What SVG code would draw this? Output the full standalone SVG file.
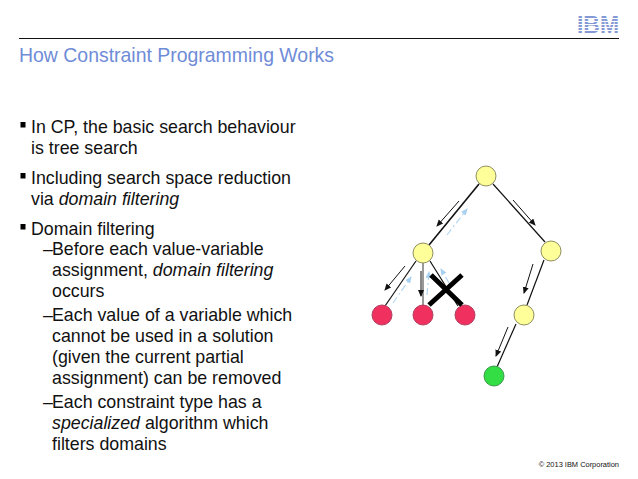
<svg xmlns="http://www.w3.org/2000/svg" width="638" height="479" viewBox="0 0 638 479">
<style>
text{font-family:"Liberation Sans",Arial,sans-serif;fill:#111}
.b{font-size:17.8px}
.i{font-style:italic}
.y{fill:#ffff99;stroke:#8f8f5f;stroke-width:1}
.r{fill:#f0305f;stroke:#b04060;stroke-width:1}
.g{fill:#33dd44;stroke:#3a9a4a;stroke-width:1}
.e{stroke:#111;stroke-width:1.2;fill:none}
.a{stroke:#111;stroke-width:1;fill:none;marker-end:url(#k)}
.u{stroke:#b4d6f2;stroke-width:1.2;stroke-dasharray:7 3 2 3;fill:none;marker-end:url(#l)}
</style>
<defs>
<marker id="k" markerWidth="8" markerHeight="8" refX="6" refY="3" orient="auto" markerUnits="userSpaceOnUse"><path d="M0 0L7 3L0 6z" fill="#111"/></marker>
<marker id="l" markerWidth="8" markerHeight="8" refX="6" refY="3" orient="auto" markerUnits="userSpaceOnUse"><path d="M0 0L7 3L0 6z" fill="#a8d0f0"/></marker>
</defs>
<rect width="638" height="479" fill="#fff"/>
<g id="logo" opacity="0.75">
<text x="577" y="32.5" font-size="23" font-weight="700" textLength="42" lengthAdjust="spacingAndGlyphs" style="fill:#5a76c8">IBM</text>
<path d="M574 18.5H622M574 21.5H622M574 24.5H622M574 27.5H622M574 30.5H622" stroke="#fff" stroke-width="1.2"/>
</g>
<path d="M19 38.5H619" stroke="#111" stroke-width="1"/>
<text id="title" x="19" y="62" font-size="19.45" style="fill:#6f8cd8">How Constraint Programming Works</text>
<g id="body">
<rect x="20.5" y="122" width="5" height="5.5"/><rect x="20.5" y="173" width="5" height="5.5"/><rect x="20.5" y="224" width="5" height="5.5"/>
<text class="b" x="31" y="133">In CP, the basic search behaviour</text>
<text class="b" x="31" y="154">is tree search</text>
<text class="b" x="31" y="184">Including search space reduction</text>
<text class="b" x="31" y="205">via <tspan class="i">domain filtering</tspan></text>
<text class="b" x="31" y="235">Domain filtering</text>
<text class="b" x="43" y="254.5">–</text>
<text class="b" x="52" y="254.5">Before each value-variable</text>
<text class="b" x="52" y="275.5">assignment, <tspan class="i">domain filtering</tspan></text>
<text class="b" x="52" y="296.5">occurs</text>
<text class="b" x="43" y="320.5">–</text>
<text class="b" x="52" y="320.5">Each value of a variable which</text>
<text class="b" x="52" y="341.5">cannot be used in a solution</text>
<text class="b" x="52" y="362.5">(given the current partial</text>
<text class="b" x="52" y="383.5">assignment) can be removed</text>
<text class="b" x="43" y="407.5">–</text>
<text class="b" x="52" y="407.5">Each constraint type has a</text>
<text class="b" x="52" y="428.5"><tspan class="i">specialized</tspan> algorithm which</text>
<text class="b" x="52" y="449.5">filters domains</text>
</g>
<g id="connectors">
<path class="e" d="M479 184L429 245" style="stroke-width:1.6"/>
<path class="e" d="M493 184L545 242"/>
<path class="e" d="M416 261L385 306"/>
<path d="M423 263V306" stroke="#777" stroke-width="1.5"/>
<path class="e" d="M430 261L458 306"/>
<path class="e" d="M544 260L527 305"/>
<path class="e" d="M516 324L497 367"/>
<path class="a" d="M459 201L437 226"/>
<path class="a" d="M513 200L535 225"/>
<path class="a" d="M405 266L385 290"/>
<path class="a" d="M421 271V296"/>
<path class="a" d="M533 264L524 293"/>
<path class="a" d="M508 327L496 356"/>
<path class="u" d="M447 235L467 209"/>
<path class="u" d="M393 303L411 277"/>
<path class="u" d="M427 295L429 272"/>
<path class="u" d="M449 283L441 269"/>
</g>
<g id="n1"><circle class="y" cx="486" cy="176" r="10"/></g>
<g id="n2"><circle class="y" cx="423" cy="253" r="10"/></g>
<g id="n3"><circle class="y" cx="551" cy="251" r="10"/></g>
<g id="n4"><circle class="r" cx="382" cy="315" r="10"/></g>
<g id="n5"><circle class="r" cx="423" cy="315" r="10"/></g>
<g id="n6"><circle class="r" cx="465" cy="315" r="10"/></g>
<g id="n7"><circle class="y" cx="524" cy="315" r="10"/></g>
<g id="n8"><circle class="g" cx="494" cy="376" r="10"/></g>
<g id="cross"><path d="M429 305L462 275M431 275L462 305" stroke="#000" stroke-width="5"/></g>
<text id="copyright" x="619" y="467" font-size="7.45" text-anchor="end">© 2013 IBM Corporation</text>
</svg>
